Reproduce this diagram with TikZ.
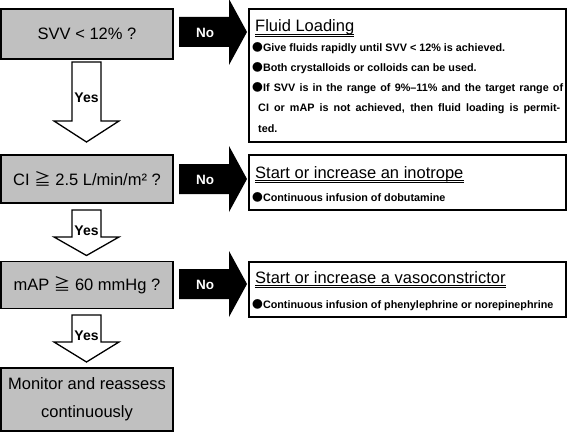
\documentclass[tikz,border=0pt]{standalone}
\usepackage{fontspec}
\setmainfont{Liberation Sans}
\newfontfamily\cjk{Noto Sans CJK JP}
\definecolor{boxgray}{RGB}{192,192,192}
\begin{document}
\begin{tikzpicture}[x=1pt,y=-1pt]
\tikzset{
 gbox/.style={draw=black, line width=1.3pt, fill=boxgray, minimum width=172pt, inner sep=0pt, font=\fontsize{16.5}{28}\selectfont, align=center},
 wbox/.style={draw=black, line width=1.4pt, fill=white, inner sep=0pt},
 ttl/.style={anchor=base west, inner sep=0pt, font=\fontsize{16.5}{20}\selectfont},
 bul/.style={anchor=base west, inner sep=0pt, font=\fontsize{10.8}{20}\selectfont\bfseries},
 noarrow/.style={fill=black},
 yesarrow/.style={draw=black, line width=1.3pt, fill=white, line join=miter},
 notext/.style={text=white, inner sep=0pt, font=\fontsize{13.5}{15}\selectfont\bfseries},
 yestext/.style={inner sep=0pt, font=\fontsize{14}{15}\selectfont\bfseries},
 uline/.style={line width=0.8pt}
}
\useasboundingbox (0,0) rectangle (567,433);

% left decision boxes
\node[gbox, minimum height=50pt] (b1) at (87,34) {SVV < 12\% ?};
\node[gbox, minimum height=48pt] (b2) at (87,179) {CI {\cjk ≧} 2.5 L/min/m² ?};
\node[gbox, minimum height=46.5pt] (b3) at (87,285) {mAP {\cjk ≧} 60 mmHg ?};
\node[gbox, minimum height=63pt] (b4) at (87,399.5) {Monitor and reassess\\continuously};

% right action boxes
\node[wbox, minimum width=317pt, minimum height=133pt] (r1) at (407.5,75.5) {};
\node[wbox, minimum width=317pt, minimum height=55pt] (r2) at (407.5,182.5) {};
\node[wbox, minimum width=317pt, minimum height=55pt] (r3) at (407.5,289.5) {};

% yes arrows (block arrows between boxes)
\draw[yesarrow] (72,62) -- (101,62) -- (101,121) -- (119,121) -- (86.5,142) -- (54,121) -- (72,121) -- cycle;
\draw[yesarrow] (72,210) -- (101,210) -- (101,237) -- (119,237) -- (86.5,255.5) -- (54,237) -- (72,237) -- cycle;
\draw[yesarrow] (72,315) -- (101,315) -- (101,342) -- (119,342) -- (86.5,362) -- (54,342) -- (72,342) -- cycle;
\node[yestext] (y1) at (86.5,98) {Yes};
\node[yestext] (y2) at (86.5,230.5) {Yes};
\node[yestext] (y3) at (86.5,335.5) {Yes};

% no arrows
\fill[noarrow] (179,17) -- (229,17) -- (229,-1) -- (247,32) -- (229,65) -- (229,47) -- (179,47) -- cycle;
\fill[noarrow] (179,164) -- (229,164) -- (229,146) -- (247,179) -- (229,212) -- (229,194) -- (179,194) -- cycle;
\fill[noarrow] (179,269) -- (229,269) -- (229,251) -- (247,284) -- (229,317) -- (229,299) -- (179,299) -- cycle;
\node[notext] (n1) at (205,33) {No};
\node[notext] (n2) at (205,180) {No};
\node[notext] (n3) at (205,285) {No};

% Fluid loading texts
\node[ttl] (t1) at (255,32) {Fluid Loading};
\draw[uline] ([yshift=-2.3pt]t1.base west) -- ([yshift=-2.3pt]t1.base east);
\draw[uline] ([yshift=-4.8pt]t1.base west) -- ([yshift=-4.8pt]t1.base east);
\node[bul] (f1) at (252,52) {{\cjk ●}Give fluids rapidly until SVV < 12\% is achieved.};
\node[bul] (f2) at (252,72) {{\cjk ●}Both crystalloids or colloids can be used.};
\node[bul] (f3) at (252,92) {\makebox[311pt][s]{{\cjk ●}If SVV is in the range of 9\%–11\% and the target range of}};
\node[bul] (f4) at (258,112) {\makebox[302pt][s]{CI or mAP is not achieved, then fluid loading is permit-}};
\node[bul] (f5) at (258,132) {ted.};

% inotrope texts
\node[ttl] (t2) at (255,178) {Start or increase an inotrope};
\draw[uline] ([yshift=-2.3pt]t2.base west) -- ([yshift=-2.3pt]t2.base east);
\draw[uline] ([yshift=-4.8pt]t2.base west) -- ([yshift=-4.8pt]t2.base east);
\node[bul] (i1) at (252,201) {{\cjk ●}Continuous infusion of dobutamine};

% vasoconstrictor texts
\node[ttl] (t3) at (255,283) {Start or increase a vasoconstrictor};
\draw[uline] ([yshift=-2.3pt]t3.base west) -- ([yshift=-2.3pt]t3.base east);
\draw[uline] ([yshift=-4.8pt]t3.base west) -- ([yshift=-4.8pt]t3.base east);
\node[bul] (v1) at (252,308) {{\cjk ●}Continuous infusion of phenylephrine or norepinephrine};
\end{tikzpicture}
\end{document}
